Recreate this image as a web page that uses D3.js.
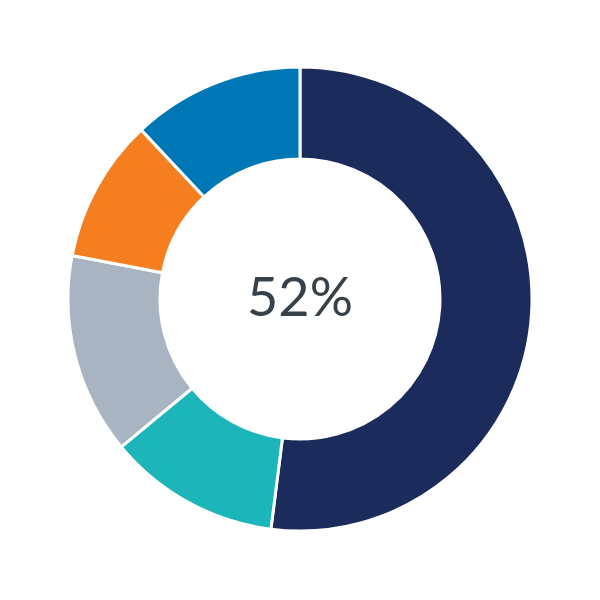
<!DOCTYPE html>
<html>
<head>
<meta charset="utf-8">
<script src="https://cdn.jsdelivr.net/npm/d3@7"></script>
<style>
  body { margin: 0; background: #fff; }
</style>
</head>
<body>
<div id="chart-area"></div>
<script>
// slice data, clockwise from 12 o'clock
var categories = ["A", "B", "C", "D", "E"]
var values = [52, 12, 14, 10, 12]
var colors = ["#1b2b5b", "#1cb5b9", "#a8b4c2", "#f47e20", "#0077b5"]
var centerLabel = "52%"

var cw = 600
var ch = 600
var outerR = 232
var innerR = 140

var data = categories.map((c, i) => ({ name: c, value: values[i] }))

var svg = d3.select("#chart-area").append("svg")
    .attr("width", cw)
    .attr("height", ch)

var g = svg.append("g")
    .attr("transform", "translate(" + 300 + ", " + 299 + ")")

var color = d3.scaleOrdinal()
    .domain(categories)
    .range(colors)

var pie = d3.pie()
    .sort(null)
    .value(d => d.value)

var arc = d3.arc()
    .innerRadius(innerR)
    .outerRadius(outerR)

g.selectAll("path")
    .data(pie(data)).enter().append("path")
        .attr("d", arc)
        .attr("fill", d => color(d.data.name))
        .attr("stroke", "#fff")
        .attr("stroke-width", 3)

g.append("text")
    .attr("x", 0)
    .attr("y", -2)
    .attr("dy", "0.35em")
    .attr("text-anchor", "middle")
    .attr("font-family", "Lato, sans-serif")
    .attr("font-weight", 400)
    .attr("font-size", "54px")
    .attr("fill", "#36414a")
    .text(centerLabel)
</script>
</body>
</html>
